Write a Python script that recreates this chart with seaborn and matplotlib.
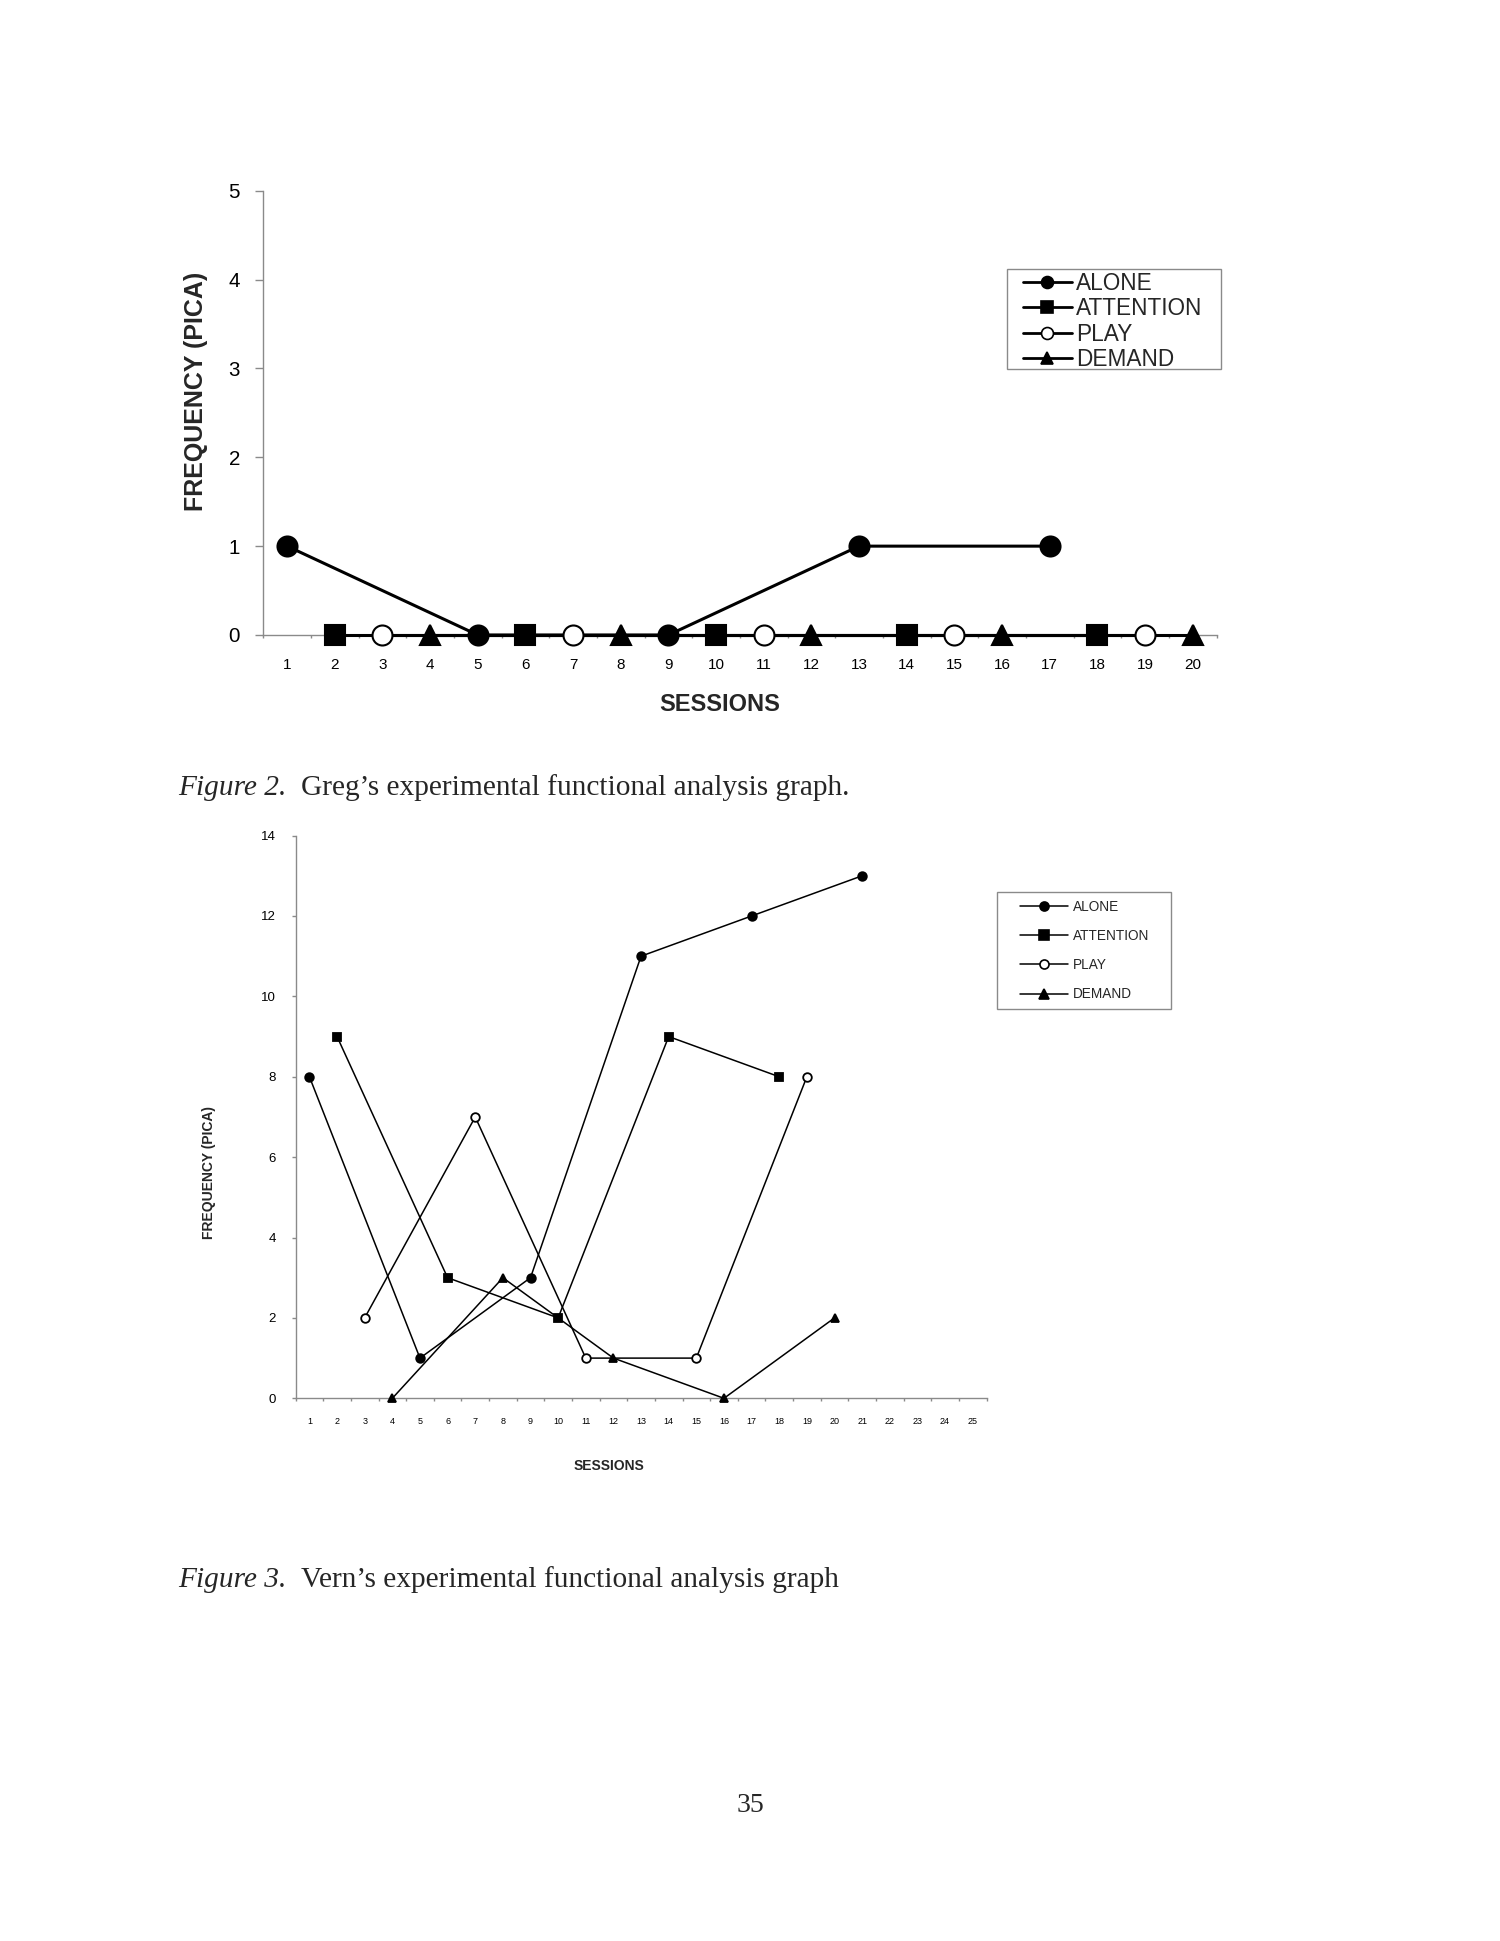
import numpy as np
import pandas as pd
import matplotlib
matplotlib.use("Agg")
import matplotlib.pyplot as plt
import seaborn as sns
from matplotlib.lines import Line2D
from matplotlib.patches import Rectangle

# ---------------- data ----------------
conditions = ["ALONE", "ATTENTION", "PLAY", "DEMAND"]

# Figure 2 - Greg
greg_alone_sessions = [1, 5, 9, 13, 17]
greg_alone_freq = [1, 0, 0, 1, 1]
greg_attention_sessions = [2, 6, 10, 14, 18]
greg_attention_freq = [0, 0, 0, 0, 0]
greg_play_sessions = [3, 7, 11, 15, 19]
greg_play_freq = [0, 0, 0, 0, 0]
greg_demand_sessions = [4, 8, 12, 16, 20]
greg_demand_freq = [0, 0, 0, 0, 0]

# Figure 3 - Vern
vern_alone_sessions = [1, 5, 9, 13, 17, 21]
vern_alone_freq = [8, 1, 3, 11, 12, 13]
vern_attention_sessions = [2, 6, 10, 14, 18]
vern_attention_freq = [9, 3, 2, 9, 8]
vern_play_sessions = [3, 7, 11, 15, 19]
vern_play_freq = [2, 7, 1, 1, 8]
vern_demand_sessions = [4, 8, 12, 16, 20]
vern_demand_freq = [0, 3, 1, 0, 2]

greg_x_ticks = list(range(1, 21))
greg_y_ticks = [0, 1, 2, 3, 4, 5]
vern_x_ticks = list(range(1, 26))
vern_y_ticks = [0, 2, 4, 6, 8, 10, 12, 14]

caption2_italic = "Figure 2."
caption2_text = "Greg\u2019s experimental functional analysis graph."
caption3_italic = "Figure 3."
caption3_text = "Vern\u2019s experimental functional analysis graph"
page_number = "35"


def long_df(parts):
    rows = []
    for cond, xs, ys in parts:
        for x, y in zip(xs, ys):
            rows.append({"session": x, "freq": y, "condition": cond})
    return pd.DataFrame(rows)


greg = long_df([
    ("ALONE", greg_alone_sessions, greg_alone_freq),
    ("ATTENTION", greg_attention_sessions, greg_attention_freq),
    ("PLAY", greg_play_sessions, greg_play_freq),
    ("DEMAND", greg_demand_sessions, greg_demand_freq),
])
vern = long_df([
    ("ALONE", vern_alone_sessions, vern_alone_freq),
    ("ATTENTION", vern_attention_sessions, vern_attention_freq),
    ("PLAY", vern_play_sessions, vern_play_freq),
    ("DEMAND", vern_demand_sessions, vern_demand_freq),
])

markers = {"ALONE": "o", "ATTENTION": "s", "PLAY": "o", "DEMAND": "^"}
faces = {"ALONE": "black", "ATTENTION": "black", "PLAY": "white", "DEMAND": "black"}
draw_order = ["ALONE", "ATTENTION", "DEMAND", "PLAY"]

# ---------------- style ----------------
sns.set_style("ticks")
plt.rcParams["font.family"] = ["Liberation Sans", "DejaVu Sans"]
GRAY = "#8a8a8a"

W, H = 1500, 1941
fig = plt.figure(figsize=(W / 100, H / 100), dpi=100)
fig.patch.set_facecolor("white")


def ax_rect(left, right, top, bottom):
    return [left / W, 1 - bottom / H, (right - left) / W, (bottom - top) / H]


def draw_series(ax, df, msize, lw, mew):
    for i, cond in enumerate(draw_order):
        sub = df[df["condition"] == cond]
        sns.lineplot(data=sub, x="session", y="freq", ax=ax, color="black",
                     marker=markers[cond], markersize=msize,
                     markerfacecolor=faces[cond], markeredgecolor="black",
                     markeredgewidth=mew, linewidth=lw, errorbar=None,
                     legend=False, clip_on=False, zorder=3 + i)


def style_axes(ax, xticks, yticks, xlim, ylim, ytick_fs, xtick_fs,
               ylen, ypad, xlen, xpad):
    ax.set_xlim(*xlim)
    ax.set_ylim(*ylim)
    ax.set_xticks(xticks)
    ax.set_xticks(np.arange(xlim[0], xlim[1] + 0.01, 1.0), minor=True)
    ax.set_yticks(yticks)
    ax.tick_params(axis="x", which="major", length=0, pad=xpad + xlen,
                   labelsize=xtick_fs, labelcolor="black")
    ax.tick_params(axis="x", which="minor", length=xlen, width=1, color=GRAY)
    ax.tick_params(axis="y", which="major", length=ylen, width=1, color=GRAY,
                   pad=ypad, labelsize=ytick_fs, labelcolor="black")
    ax.tick_params(axis="y", which="minor", length=0)
    for s in ["top", "right"]:
        ax.spines[s].set_visible(False)
    for s in ["left", "bottom"]:
        ax.spines[s].set_color(GRAY)
        ax.spines[s].set_linewidth(1)
    ax.set_facecolor("white")


def add_legend(handle_left, rows_center, fs, hlen, htp, lspace, msize, lw,
               frame_box):
    handles = [Line2D([], [], color="black", lw=lw, marker=markers[c],
                      markersize=msize, markerfacecolor=faces[c],
                      markeredgecolor="black", markeredgewidth=1.2)
               for c in conditions]
    fig.legend(handles, conditions, loc="center left",
               bbox_to_anchor=(handle_left / W, 1 - rows_center / H),
               bbox_transform=fig.transFigure, frameon=False, borderpad=0,
               borderaxespad=0, fontsize=fs, handlelength=hlen,
               handletextpad=htp, labelspacing=lspace, handleheight=0.7)
    x0, y0, x1, y1 = frame_box
    fig.patches.append(Rectangle((x0 / W, 1 - y1 / H), (x1 - x0) / W,
                                 (y1 - y0) / H, transform=fig.transFigure,
                                 fill=False, edgecolor=GRAY, lw=1))


# ---------------- Figure 2 ----------------
ax1 = fig.add_axes(ax_rect(263.3, 1216.5, 190.7, 635.0))
draw_series(ax1, greg, msize=14.4, lw=2.2, mew=1.5)
style_axes(ax1, greg_x_ticks, greg_y_ticks, (0.5, 20.5), (0, 5),
           ytick_fs=14.8, xtick_fs=11, ylen=5.5, ypad=11.3, xlen=2.2, xpad=14.5)
ax1.set_ylabel("FREQUENCY (PICA)", fontsize=18, fontweight="bold")
ax1.set_xlabel("SESSIONS", fontsize=17, fontweight="bold")
ax1.yaxis.set_label_coords(-0.058, 0.548)
ax1.xaxis.set_label_coords(0.479, -0.131)
add_legend(1023, 321.5, 16.3, 2.15, 0.2, 0.106, 8.6, 2.0,
           (1006.7, 269.3, 1221.3, 369.3))

# ---------------- Figure 3 ----------------
ax2 = fig.add_axes(ax_rect(295.6, 986.5, 835.6, 1398.3))
draw_series(ax2, vern, msize=6.2, lw=1.1, mew=1.3)
style_axes(ax2, vern_x_ticks, vern_y_ticks, (0.5, 25.5), (0, 14),
           ytick_fs=9.5, xtick_fs=6.5, ylen=2.9, ypad=11.5, xlen=2.2, xpad=11.5)
ax2.set_ylabel("FREQUENCY (PICA)", fontsize=10, fontweight="bold")
ax2.set_xlabel("SESSIONS", fontsize=10, fontweight="bold")
ax2.yaxis.set_label_coords(-0.115, 0.4015)
ax2.xaxis.set_label_coords(0.4536, -0.107)
add_legend(1020, 950.4, 9.8, 3.55, 0.33, 1.12, 6.5, 1.1,
           (996.7, 892.5, 1170.7, 1008.6))

# ---------------- captions ----------------
serif = ["Liberation Serif", "DejaVu Serif"]
cap_fs = 21.2
fig.text(178 / W, 1 - 795 / H, caption2_italic, family=serif, style="italic",
         fontsize=cap_fs, va="baseline", ha="left")
fig.text(301 / W, 1 - 795 / H, caption2_text, family=serif,
         fontsize=cap_fs, va="baseline", ha="left")
fig.text(178 / W, 1 - 1587 / H, caption3_italic, family=serif, style="italic",
         fontsize=cap_fs, va="baseline", ha="left")
fig.text(301 / W, 1 - 1587 / H, caption3_text, family=serif,
         fontsize=cap_fs, va="baseline", ha="left")
fig.text(750 / W, 1 - 1812 / H, page_number, family=serif,
         fontsize=20, va="baseline", ha="center")

fig.savefig("out.png", dpi=100, facecolor="white")
